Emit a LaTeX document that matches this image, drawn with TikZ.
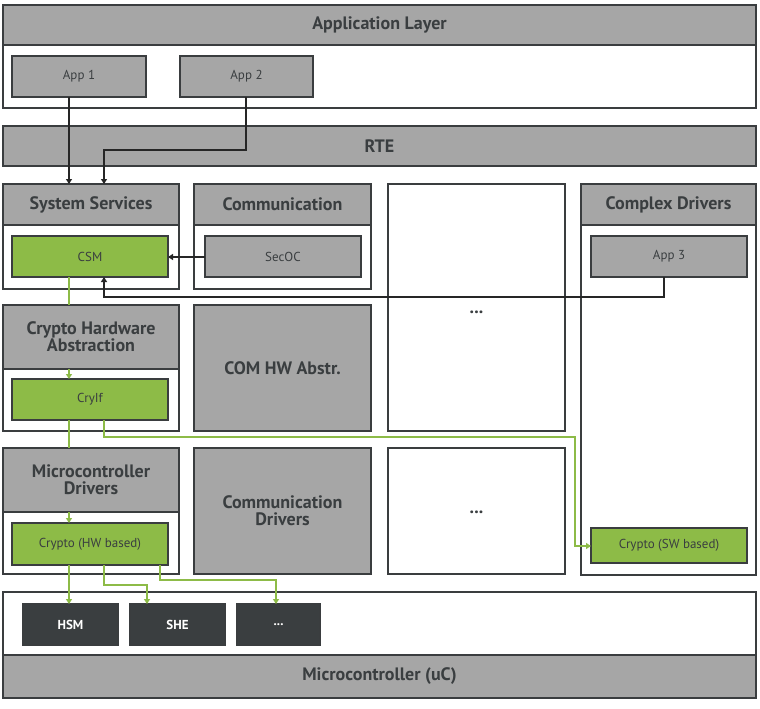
\documentclass[tikz,border=0pt]{standalone}
\usepackage{fontspec}
\setmainfont{PT Sans}
\usetikzlibrary{arrows.meta}
\definecolor{gr}{HTML}{A6A6A6}
\definecolor{gn}{HTML}{8DBB47}
\definecolor{dk}{HTML}{3A3E40}
\definecolor{ln}{HTML}{3A3D3F}
\begin{document}
\begin{tikzpicture}[x=1pt,y=-1pt,
  box/.style={draw=ln,line width=1.6pt},
  wb/.style={box,fill=white},
  gb/.style={box,fill=gr},
  hd/.style={font=\fontsize{18}{20}\selectfont\bfseries,text=dk,align=center},
  lb/.style={font=\fontsize{13}{15}\selectfont,text=dk},
  blk/.style={draw=black!85,line width=1.5pt,-{Triangle[length=5pt,width=6pt]}},
  grn/.style={draw=gn,line width=1.5pt},
  grna/.style={grn,-{Triangle[length=5pt,width=6pt]}}]
\useasboundingbox (0,0) rectangle (760,709);
% Application layer
\draw[wb] (3,5) rectangle (756,108);
\draw[gb] (3,5) rectangle (756,45);
\node[hd] (app) at (379.5,25) {Application Layer};
\draw[gb] (12,56) rectangle (146,97); \node[lb] (a1) at (79,76.5) {App 1};
\draw[gb] (180,56) rectangle (313,97); \node[lb] (a2) at (246.5,76.5) {App 2};
% RTE
\draw[gb] (3,126) rectangle (756,166); \node[hd] (rte) at (379.5,146) {RTE};
% System services
\draw[wb] (3,184) rectangle (179,289);
\draw[gb] (3,184) rectangle (179,225); \node[hd] (ss) at (91,204.5) {System Services};
\draw[box,fill=gn] (12,236) rectangle (168,277); \node[lb] (csm) at (90,256.5) {CSM};
% Communication
\draw[wb] (194,184) rectangle (371,289);
\draw[gb] (194,184) rectangle (371,225); \node[hd] (com) at (282.5,204.5) {Communication};
\draw[gb] (205,236) rectangle (361,277); \node[lb] (secoc) at (283,256.5) {SecOC};
% dots boxes
\draw[wb] (388,184) rectangle (565,431); \node[hd] (d1) at (476.5,312) {...};
\draw[wb] (388,448) rectangle (565,574); \node[hd] (d2) at (476.5,512) {...};
% Complex drivers
\draw[wb] (581,184) rectangle (756,575);
\draw[gb] (581,184) rectangle (756,225); \node[hd] (cd) at (668.5,204.5) {Complex Drivers};
\draw[gb] (591,236) rectangle (747,277); \node[lb] (a3) at (669,256.5) {App 3};
\draw[box,fill=gn] (591,528) rectangle (747,563); \node[lb] (csw) at (669,545.5) {Crypto (SW based)};
% Crypto HW abstraction
\draw[wb] (3,305) rectangle (179,431);
\draw[gb] (3,305) rectangle (179,369); \node[hd] (cha) at (91,337) {Crypto Hardware\\[-3pt]Abstraction};
\draw[box,fill=gn] (12,379) rectangle (168,420); \node[lb] (cryif) at (90,399.5) {CryIf};
\draw[gb] (194,305) rectangle (371,431); \node[hd] (chw) at (282.5,368) {COM HW Abstr.};
% Microcontroller drivers
\draw[wb] (3,448) rectangle (179,574);
\draw[gb] (3,448) rectangle (179,512); \node[hd] (mcd) at (91,480) {Microcontroller\\[-3pt]Drivers};
\draw[box,fill=gn] (12,523) rectangle (168,565); \node[lb] (chwb) at (90,544) {Crypto (HW based)};
\draw[gb] (194,448) rectangle (371,574); \node[hd] (cdr) at (282.5,511) {Communication\\[-3pt]Drivers};
% Microcontroller
\draw[wb] (3,592) rectangle (756,698);
\draw[gb] (3,655) rectangle (756,698); \node[hd] (uc) at (379.5,676) {Microcontroller (uC)};
\draw[box,fill=dk] (23,604) rectangle (118,645); \node[lb,text=white,font=\fontsize{13}{15}\selectfont\bfseries] (hsm) at (70.5,624.5) {HSM};
\draw[box,fill=dk] (130,604) rectangle (225,645); \node[lb,text=white,font=\fontsize{13}{15}\selectfont\bfseries] (she) at (177.5,624.5) {SHE};
\draw[box,fill=dk] (237,604) rectangle (320,645); \node[lb,text=white,font=\fontsize{13}{15}\selectfont\bfseries] (dd) at (278.5,624.5) {...};
% black connectors
\draw[blk] (69,97) -- (69,184);
\draw[blk] (246,97) -- (246,150) -- (104,150) -- (104,184);
\draw[blk] (205,257) -- (168,257);
\draw[blk] (664,277) -- (664,297) -- (104,297) -- (104,277);
% green connectors
\draw[grn] (69,277) -- (69,305);
\draw[grna] (69,369) -- (69,379);
\draw[grn] (69,420) -- (69,448);
\draw[grna] (69,512) -- (69,523);
\draw[grna] (104,420) -- (104,437) -- (575,437) -- (575,546) -- (591,546);
\draw[grna] (69,565) -- (69,604);
\draw[grna] (104,565) -- (104,585) -- (147,585) -- (147,604);
\draw[grna] (160,565) -- (160,580) -- (276,580) -- (276,604);
\end{tikzpicture}
\end{document}
